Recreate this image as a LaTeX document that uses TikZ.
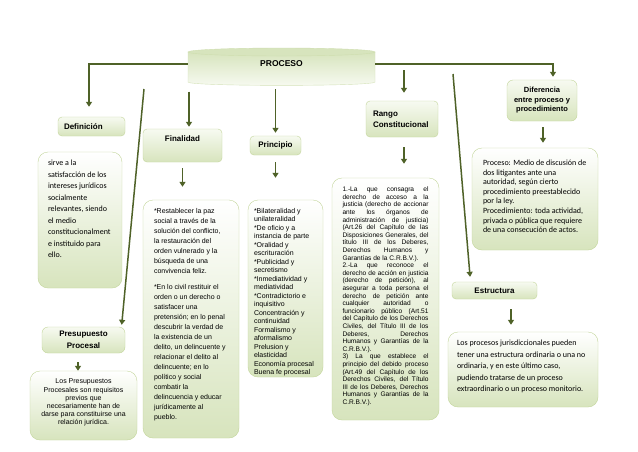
\documentclass[tikz,border=0pt]{standalone}
\usepackage{fontspec}
\setmainfont{Liberation Sans}
\newfontfamily\carlito{Carlito}
\usetikzlibrary{arrows.meta,calc}
\definecolor{conngreen}{HTML}{4F6228}
\definecolor{boxline}{HTML}{C3D69B}
\definecolor{boxfill}{HTML}{D7E4BD}
\definecolor{boxtop}{HTML}{F7FAF1}
\tikzset{
  titlebox/.style={draw=boxline, rounded corners=4pt, top color=boxtop, bottom color=boxfill,
    font=\bfseries\fontsize{8}{10}\selectfont, inner sep=0pt, align=center},
  textbox/.style={draw=boxline, rounded corners=10pt, top color=white, bottom color=boxfill, inner sep=0pt},
  conn/.style={draw=conngreen, line width=1.5pt, -{Triangle[width=6pt,length=5pt]}}
}
\hbadness=10000 \hfuzz=30pt \tolerance=9999
\begin{document}
\begin{tikzpicture}[x=1pt,y=-1pt]
  \fill[white] (0,0) rectangle (638,451);
  \useasboundingbox (0,0) rectangle (638,451);

  % PROCESO (cilindro)
  \shade[top color=boxfill, bottom color=boxtop, draw=boxline!70]
    (188,52) -- (188,82) .. controls (188,86.5) and (375,86.5) .. (375,82) -- (375,52) -- cycle;
  \fill[boxfill, draw=boxline!80] (281.5,52) ellipse [x radius=93.5, y radius=4];
  \node[font=\bfseries\fontsize{8.5}{10}\selectfont, minimum width=187, minimum height=37, inner sep=0pt] (proceso) at (281.5,64) {PROCESO};

  % titulos
  \node[titlebox, minimum width=67, minimum height=19, text width=55, align=left] (defin) at (91.5,126.5) {Definición};
  \node[titlebox, minimum width=79, minimum height=33] (finalidad) at (182.5,145.5) {\raisebox{4pt}[0pt][0pt]{Finalidad}};
  \node[titlebox, minimum width=51, minimum height=19] (principio) at (275.5,145.5) {Principio};
  \node[titlebox, minimum width=72, minimum height=36, text width=58, align=left,
        font=\bfseries\fontsize{8}{11}\selectfont] (rango) at (402,119) {Rango\\Constitucional};
  \node[titlebox, rounded corners=6pt, minimum width=70, minimum height=41,
        font=\bfseries\fontsize{7.5}{9.5}\selectfont] (difer) at (542,100.5) {Diferencia\\entre proceso y\\procedimiento};
  \node[titlebox, minimum width=85, minimum height=17] (estruc) at (494.5,290.5) {Estructura};
  \node[titlebox, rounded corners=6pt, minimum width=83, minimum height=26,
        font=\bfseries\fontsize{8}{12}\selectfont] (presup) at (83.5,340) {Presupuesto\\Procesal};

  % cajas de texto
  \node[textbox, inner xsep=10pt, inner ysep=8pt] (sirve) at (80,220)
    {\parbox[c][120pt][t]{64pt}{\raggedright\carlito\fontsize{8}{11.5}\selectfont
     sirve a la\\ satisfacción de los\\ intereses jurídicos\\ socialmente\\ relevantes, siendo\\
     el medio\\ constitucionalment\\ e instituido para\\ ello.}};
  \node[textbox, inner xsep=11pt, inner ysep=8pt] (restab) at (191,319)
    {\parbox[c][222pt][t]{74pt}{\raggedright\fontsize{7}{10}\selectfont
     *Restablecer la paz\\ social a través de la\\ solución del conflicto,\\ la restauración del\\
     orden vulnerado y la\\ búsqueda de una\\ convivencia feliz.\\[6pt]
     {*}En lo civil restituir el\\ orden o un derecho o\\ satisfacer una\\ pretensión; en lo penal\\
     descubrir la verdad de\\ la existencia de un\\ delito, un delincuente y\\ relacionar el delito al\\
     delincuente; en lo\\ político y social\\ combatir la\\ delincuencia y educar\\
     jurídicamente al\\ pueblo.}};
  \node[textbox, inner xsep=6pt, inner ysep=8pt] (bilat) at (285.5,288.5)
    {\parbox[c][161pt][t]{63pt}{\raggedright\fontsize{7}{8.5}\selectfont
     *Bilateralidad y\\ unilateralidad\\ {*}De oficio y a\\ instancia de parte\\ {*}Oralidad y\\
     escrituración\\ {*}Publicidad y\\ secretismo\\ {*}Inmediatividad y\\ mediatividad\\
     {*}Contradictorio e\\ inquisitivo\\ Concentración y\\ continuidad\\ Formalismo y\\
     aformalismo\\ Prelusion y\\ elasticidad\\ Economía procesal\\ Buena fe procesal}};
  \node[textbox, inner xsep=10.5pt, inner ysep=9pt] (ley) at (385.5,299)
    {\parbox[c][224pt][t]{86pt}{\fontsize{6.6}{7.6}\selectfont
     1.-La que consagra el\linebreak derecho de acceso a la\linebreak
     justicia (derecho de accionar\linebreak ante los órganos de\linebreak
     administración de justicia)\linebreak (Art.26 del Capítulo de las\linebreak
     Disposiciones Generales, del\linebreak título III de los Deberes,\linebreak
     Derechos Humanos y\linebreak Garantías de la C.R.B.V.).\par
     2.-La que reconoce el\linebreak derecho de acción en justicia\linebreak
     (derecho de petición), al\linebreak asegurar a toda persona el\linebreak
     derecho de petición ante\linebreak cualquier autoridad o\linebreak
     funcionario público (Art.51\linebreak del Capítulo de los Derechos\linebreak
     Civiles, del Título III de los\linebreak Deberes, Derechos\linebreak
     Humanos y Garantías de la\linebreak C.R.B.V.).\par
     3) La que establece el\linebreak principio del debido proceso\linebreak
     (Art.49 del Capítulo de los\linebreak Derechos Civiles, del Título\linebreak
     III de los Deberes, Derechos\linebreak Humanos y Garantías de la\linebreak
     C.R.B.V.).}};
  \node[textbox, inner xsep=11pt, inner ysep=12pt] (defproc) at (535,199)
    {\parbox[c][78pt][t]{104pt}{\raggedright\carlito\fontsize{8}{9.6}\selectfont
     Proceso: Medio de discusión de\\ dos litigantes ante una\\ autoridad, según cierto\\
     procedimiento preestablecido\\ por la ley.\\ Procedimiento: toda actividad,\\
     privada o pública que requiere\\ de una consecución de actos.}};
  \node[textbox, inner xsep=9pt, inner ysep=8pt] (estrtxt) at (523,369.5)
    {\parbox[c][59pt][t]{132pt}{\raggedright\carlito\fontsize{8}{11.5}\selectfont
     Los procesos jurisdiccionales pueden\\ tener una estructura ordinaria o una no\\
     ordinaria, y en este último caso,\\ pudiendo tratarse de un proceso\\
     extraordinario o un proceso monitorio.}};
  \node[textbox, inner xsep=3pt, inner ysep=8pt] (presuptxt) at (83.5,405.5)
    {\parbox[c][53pt][t]{101pt}{\centering\fontsize{7}{8.2}\selectfont
     Los Presupuestos\\ Procesales son requisitos\\ previos que\\ necesariamente han de\\
     darse para constituirse una\\ relación jurídica.}};

  % conectores
  \coordinate (rangotop) at (404,70);
  \coordinate (leftdiag) at (144,89);
  \coordinate (rightdiag) at (453,74);
  \coordinate (finin) at ([xshift=6.5pt]finalidad.north);
  \draw[conn, shorten >=10pt] (proceso.west) -| ([xshift=-2.5pt]defin.north);
  \draw[conn, shorten >=3pt] (proceso.east) -| ([xshift=11pt]difer.north);
  \draw[conn, shorten <=9pt, shorten >=2pt] (proceso.south -| finin) -- (finin);
  \draw[conn, shorten <=6.5pt, shorten >=3pt] (proceso.south -| principio.north) -- (principio.north);
  \draw[conn, shorten >=8pt] (rangotop) -- (rangotop |- rango.north);
  \draw[conn, shorten >=2pt] (leftdiag) -- ([xshift=38pt]presup.north);
  \draw[conn, shorten >=5pt] (rightdiag) -- ([xshift=-24pt]estruc.north);
  \draw[conn, shorten <=6pt, shorten >=13pt] (finalidad.south) -- (finalidad.south |- restab.north);
  \draw[conn, shorten <=7pt, shorten >=22pt] (principio.south) -- (principio.south |- bilat.north);
  \draw[conn, shorten <=10pt, shorten >=14pt] ([xshift=2pt]rango.south) -- ([xshift=2pt]rango.south |- ley.north);
  \draw[conn, shorten <=6pt, shorten >=5pt] ([xshift=1pt]difer.south) -- ([xshift=1pt]difer.south |- defproc.north);
  \draw[conn, shorten <=10pt, shorten >=7pt] ([xshift=16.5pt]estruc.south) -- ([xshift=16.5pt]estruc.south |- estrtxt.north);
  \draw[conn, shorten <=9pt] ([xshift=-5.5pt]presup.south) -- ([xshift=-5.5pt]presup.south |- presuptxt.north);
\end{tikzpicture}
\end{document}
